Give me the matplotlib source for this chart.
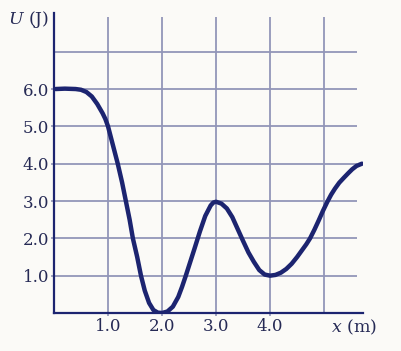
import numpy as np
import matplotlib
matplotlib.use("Agg")
import matplotlib.pyplot as plt

# potential energy curve U(x)
x_m = [0.03, 0.2, 0.4, 0.5, 0.6, 0.7, 0.8, 0.9, 0.95, 1.0, 1.09, 1.18,
       1.26, 1.33, 1.40, 1.46, 1.54, 1.61, 1.68, 1.76, 1.84, 1.92, 2.0,
       2.1, 2.2, 2.3, 2.37, 2.44, 2.5, 2.6, 2.7, 2.8, 2.9, 2.95, 3.0,
       3.1, 3.2, 3.3, 3.4, 3.5, 3.6, 3.7, 3.8, 3.9, 4.0, 4.1, 4.2, 4.3,
       4.4, 4.5, 4.6, 4.67, 4.74, 4.82, 4.9, 4.98, 5.06, 5.13, 5.2, 5.28,
       5.37, 5.45, 5.52, 5.6, 5.7]
U_J = [6.0, 6.01, 6.0, 5.98, 5.92, 5.8, 5.6, 5.35, 5.2, 5.0, 4.5, 4.0,
       3.5, 3.0, 2.5, 2.0, 1.5, 1.0, 0.6, 0.27, 0.08, 0.01, 0.0,
       0.04, 0.17, 0.43, 0.7, 1.0, 1.27, 1.72, 2.18, 2.6, 2.88, 2.96, 2.98,
       2.93, 2.8, 2.57, 2.25, 1.93, 1.62, 1.37, 1.15, 1.03, 1.0, 1.02, 1.08,
       1.18, 1.32, 1.5, 1.7, 1.84, 2.0, 2.23, 2.48, 2.74, 2.98, 3.17, 3.33,
       3.49, 3.63, 3.75, 3.85, 3.94, 4.0]

x_ticks = [1.0, 2.0, 3.0, 4.0]
x_tick_labels = ["1.0", "2.0", "3.0", "4.0"]
y_ticks = [1.0, 2.0, 3.0, 4.0, 5.0, 6.0]
y_tick_labels = ["1.0", "2.0", "3.0", "4.0", "5.0", "6.0"]
x_grid = [1, 2, 3, 4, 5]
y_grid = [1, 2, 3, 4, 5, 6, 7]

navy = "#1c2470"
gridc = "#9296b8"
textc = "#262a55"
bg = "#fbfaf7"

plt.rcParams['font.family'] = ['DejaVu Serif']
plt.rcParams['mathtext.fontset'] = 'dejavuserif'

fig = plt.figure(figsize=(4.01, 3.51), dpi=100, facecolor=bg)
ax = fig.add_axes([54/401, 38/351, 309/401, 300.5/351])
ax.set_facecolor(bg)

ax.hlines(y_grid, 0, 5.6, colors=gridc, lw=1.3, zorder=1)
ax.vlines(x_grid, 0, 7.93, colors=gridc, lw=1.3, zorder=1)

ax.plot(x_m, U_J, color=navy, lw=3.2, solid_capstyle='round',
        solid_joinstyle='round', zorder=3)

ax.set_xlim(0, 5.72)
ax.set_ylim(0, 8.05)
for s in ['top', 'right']:
    ax.spines[s].set_visible(False)
for s in ['left', 'bottom']:
    ax.spines[s].set_color(navy)
    ax.spines[s].set_linewidth(1.6)

ax.set_xticks(x_ticks)
ax.set_xticklabels(x_tick_labels)
ax.set_yticks(y_ticks)
ax.set_yticklabels(y_tick_labels)
ax.tick_params(axis='both', length=2, width=1.2, color=gridc,
               labelcolor=textc, labelsize=12, pad=1.5)

fig.text(8/401, 1 - 20/351, r"$U$ (J)", color=textc, fontsize=12.5,
         ha='left', va='center')
fig.text(331/401, 1 - 327/351, r"$x$ (m)", color=textc, fontsize=12.5,
         ha='left', va='center')

fig.savefig("out.png", dpi=100, facecolor=bg)
